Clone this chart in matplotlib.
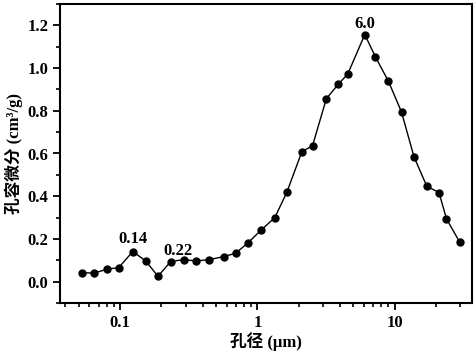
import matplotlib
matplotlib.use("Agg")
import matplotlib.pyplot as plt
from matplotlib.ticker import LogLocator, MultipleLocator, FixedLocator, FixedFormatter, FormatStrFormatter

pore_size = [0.0526, 0.065, 0.080, 0.098, 0.124, 0.154, 0.189, 0.234, 0.290, 0.359,
             0.444, 0.568, 0.694, 0.849, 1.067, 1.34, 1.64, 2.11, 2.52, 3.18,
             3.89, 4.55, 6.05, 7.24, 9.0, 11.2, 13.8, 17.1, 21.0, 23.8, 29.7]
dv = [0.042, 0.040, 0.058, 0.066, 0.141, 0.097, 0.025, 0.094, 0.103, 0.097,
      0.103, 0.117, 0.133, 0.180, 0.242, 0.300, 0.419, 0.609, 0.636, 0.857,
      0.925, 0.972, 1.157, 1.052, 0.938, 0.794, 0.585, 0.447, 0.417, 0.294, 0.185]
peak_labels = ["0.14", "0.22", "6.0"]
peak_idx = [4, 7, 22]
xtick_vals = [0.1, 1, 10]
xtick_labels = ["0.1", "1", "10"]

serif = ["Liberation Serif", "DejaVu Serif"]
mixed = ["Liberation Serif", "Noto Sans CJK SC"]

fig = plt.figure(figsize=(4.74, 3.55), dpi=100)
ax = fig.add_axes([60/474, 1-303/355, 412/474, 299/355])
ax.plot(pore_size, dv, '-', color='black', lw=1.0, marker='o', ms=5, mfc='black', mec='black')
ax.set_xscale('log')
ax.set_xlim(0.0366, 36.5)
ax.set_ylim(-0.1, 1.3)

ax.xaxis.set_major_locator(FixedLocator(xtick_vals))
ax.xaxis.set_major_formatter(FixedFormatter(xtick_labels))
ax.xaxis.set_minor_locator(LogLocator(base=10, subs=range(2, 10), numticks=20))
ax.yaxis.set_major_locator(MultipleLocator(0.2))
ax.yaxis.set_minor_locator(MultipleLocator(0.1))
ax.yaxis.set_major_formatter(FormatStrFormatter('%.1f'))

ax.tick_params(axis='both', which='major', direction='out', length=5, width=1.3,
               top=False, right=False, labelsize=12)
ax.tick_params(axis='both', which='minor', direction='out', length=3, width=1.2,
               top=False, right=False)
for lab in ax.get_xticklabels() + ax.get_yticklabels():
    lab.set_fontfamily(serif)
    lab.set_fontweight('bold')
for s in ax.spines.values():
    s.set_linewidth(1.5)

offsets = [(0, 3), (5, 2), (0, 2)]
for lab, i, off in zip(peak_labels, peak_idx, offsets):
    ax.annotate(lab, (pore_size[i], dv[i]), xytext=off, textcoords='offset points',
                ha='center', va='bottom', fontsize=12, fontweight='bold', family=serif)

ax.set_xlabel("孔径 (μm)", family=mixed, fontsize=12, fontweight='bold', labelpad=1)
ax.set_ylabel("孔容微分 (cm³/g)", family=mixed, fontsize=12, fontweight='bold', labelpad=3)

fig.savefig("out.png", dpi=100)
